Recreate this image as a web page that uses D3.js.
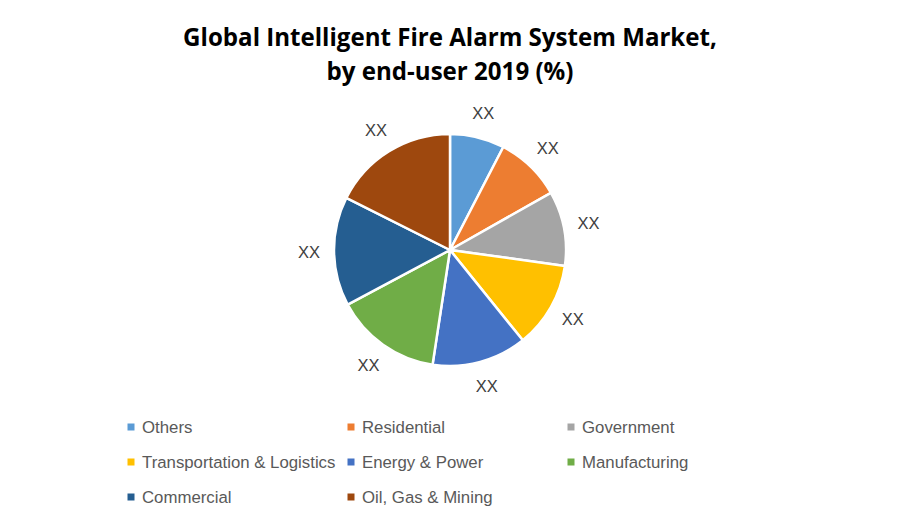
<!DOCTYPE html>
<html><head><meta charset="utf-8">
<script src="https://cdn.jsdelivr.net/npm/d3@7"></script>
<style>body{margin:0;background:#fff;}svg{display:block;}</style>
</head><body>
<svg id="c" width="900" height="525"></svg>
<script>
const categories = ["Others","Residential","Government","Transportation & Logistics","Energy & Power","Manufacturing","Commercial","Oil, Gas & Mining"];
const values = [7.6, 9.2, 10.4, 12.0, 13.2, 14.8, 15.2, 17.6];
const labels = ["XX","XX","XX","XX","XX","XX","XX","XX"];
const colors = ["#5B9BD5","#ED7D31","#A5A5A5","#FFC000","#4472C4","#70AD47","#255E91","#9E480E"];
const titleLines = ["Global Intelligent Fire Alarm System Market,","by end-user 2019 (%)"];

const svg = d3.select("#c");
const W = 900, H = 525;
svg.append("rect").attr("width",W).attr("height",H).attr("fill","#fff");

// Title
const title = svg.append("g");
titleLines.forEach((t,i)=>{
  title.append("text").attr("x",450).attr("y",46+i*34)
    .attr("text-anchor","middle").attr("font-family","'Open Sans', 'Liberation Sans', sans-serif")
    .attr("font-weight","bold").attr("font-size",23).attr("fill","#000").text(t);
});
const t0 = title.select("text").node();
const w0 = t0.getComputedTextLength();
const fs = 23*534/w0;
title.selectAll("text").attr("font-size",fs);

// Pie
const cx = 450, cy = 250, R = 116;
const pie = d3.pie().sort(null).value(d=>d)(values);
const arc = d3.arc().innerRadius(0).outerRadius(R);
const g = svg.append("g").attr("transform",`translate(${cx},${cy})`);
g.selectAll("path").data(pie).enter().append("path")
  .attr("d",arc).attr("fill",(d,i)=>colors[i]).attr("stroke","#fff").attr("stroke-width",2.5).attr("stroke-linejoin","round");
const lab = d3.arc().innerRadius(141).outerRadius(141);
g.selectAll("text.l").data(pie).enter().append("text").attr("class","l")
  .attr("transform",d=>`translate(${lab.centroid(d)})`)
  .attr("text-anchor","middle").attr("dy","0.35em")
  .attr("font-family","'Liberation Sans', Arial, sans-serif").attr("font-size",16.5).attr("fill","#404040")
  .text((d,i)=>labels[i]);

// Legend
const colX = [131, 351, 571];
const rowY = [427, 462, 497];
const leg = svg.append("g");
categories.forEach((c,i)=>{
  const x = colX[i%3], y = rowY[Math.floor(i/3)];
  leg.append("rect").attr("x",x-3.5).attr("y",y-3.5).attr("width",7).attr("height",7).attr("fill",colors[i]);
  leg.append("text").attr("x",x+11).attr("y",y).attr("dy","0.35em")
    .attr("font-family","'Liberation Sans', Arial, sans-serif").attr("font-size",16.8).attr("fill","#595959").text(c);
});
</script>
</body></html>
